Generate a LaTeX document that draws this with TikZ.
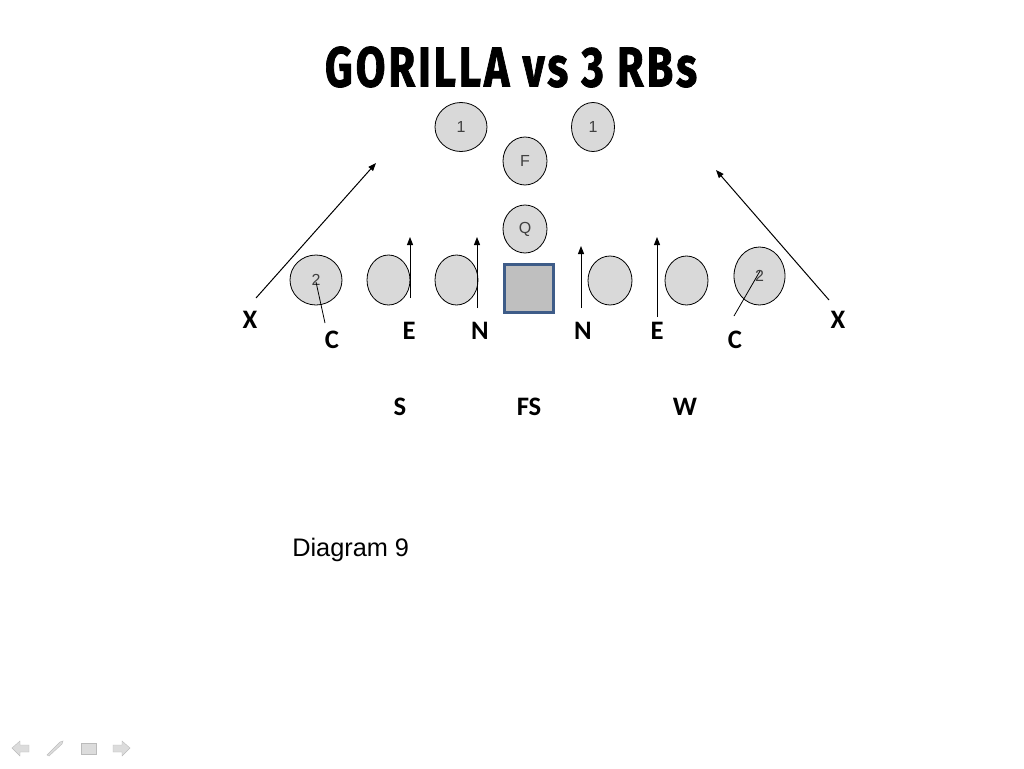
\documentclass[tikz,border=0pt]{standalone}
\usepackage{fontspec}
\setmainfont{Carlito}
\newfontfamily\titlefont[LetterSpace=7, BoldFeatures={FakeBold=1.6}]{Fira Sans}
\newfontfamily\arialfont{Liberation Sans}
\usetikzlibrary{shapes.geometric,arrows.meta}
\definecolor{circfill}{HTML}{D9D9D9}
\definecolor{sqfill}{HTML}{BFBFBF}
\definecolor{sqline}{HTML}{3E5C88}
\definecolor{navgray}{HTML}{DCDCDC}
\tikzset{
  player/.style={ellipse, draw=black, line width=0.6pt, fill=circfill, inner sep=0pt,
    font=\arialfont\fontsize{12}{12}\selectfont, text=black!75},
  lbl/.style={font=\bfseries\fontsize{20}{20}\selectfont, inner sep=0pt, anchor=center},
  route/.style={line width=0.75pt, -{Triangle[length=6pt,width=4.5pt]}},
  tie/.style={line width=0.6pt},
  nav/.style={fill=navgray, draw=navgray!85!black, line width=0.3pt}
}
\begin{document}
\begin{tikzpicture}[x=0.75pt,y=-0.75pt]
\useasboundingbox (0,0) rectangle (1024,768);
\fill[white] (0,0) rectangle (1024,768);
% title
\node[inner sep=0pt] (title) at (511,67) {\resizebox{279pt}{30pt}{\titlefont\bfseries GORILLA vs 3 RBs}};
% backs
\node[player, minimum width=39pt, minimum height=36.75pt] (b1l) at (461,127) {1};
\node[player, minimum width=32.25pt, minimum height=36.75pt] (b1r) at (593,127) {1};
\node[player, minimum width=33pt, minimum height=36pt] (f) at (525,161) {F};
\node[player, minimum width=33pt, minimum height=36pt] (q) at (525,229) {Q};
% line
\node[player, minimum width=39pt, minimum height=37.5pt] (c2l) at (316,280) {2};
\node[player, minimum width=32.25pt, minimum height=37.5pt] (ol1) at (388.5,280) {};
\node[player, minimum width=32.25pt, minimum height=37.5pt] (ol2) at (456.5,280) {};
\node[draw=sqline, line width=2.2pt, fill=sqfill, minimum width=37pt, minimum height=35.5pt, inner sep=0pt] (ctr) at (529,288.5) {};
\node[player, minimum width=33pt, minimum height=36.75pt] (or1) at (610,280.5) {};
\node[player, minimum width=32.25pt, minimum height=36.75pt] (or2) at (686.5,280.5) {};
\node[player, minimum width=38.25pt, minimum height=43.5pt] (c2r) at (759.5,276) {2};
% labels
\node[lbl] (xl) at (250,320) {X};
\node[lbl] (cl) at (332,340) {C};
\node[lbl] (el) at (409,331) {E};
\node[lbl] (nl) at (480,331) {N};
\node[lbl] (nr) at (583,331) {N};
\node[lbl] (er) at (657,331) {E};
\node[lbl] (cr) at (735,340) {C};
\node[lbl] (xr) at (838,320) {X};
\node[lbl] (s) at (400,407) {S};
\node[lbl] (fs) at (529,407) {FS};
\node[lbl] (w) at (685,407) {W};
\node[anchor=west, inner sep=0pt, font=\arialfont\fontsize{19}{19}\selectfont] (diag) at (292,550) {Diagram 9};
% route coordinates
\coordinate (xls) at (256,298);
\coordinate (xlt) at (376,163);
\coordinate (xrs) at (829,300);
\coordinate (xrt) at (716,170);
\coordinate (els) at (410,298);
\coordinate (elt) at (410,237);
\coordinate (nls) at (477,308);
\coordinate (nlt) at (477,237);
\coordinate (nrs) at (581,308);
\coordinate (nrt) at (581,246);
\coordinate (ers) at (657,317);
\coordinate (ert) at (657,237);
\coordinate (cls) at (316,282);
\coordinate (cle) at (325,323);
\coordinate (crs) at (760,271);
\coordinate (cre) at (734,316);
% routes
\draw[route] (xls) -- (xlt);
\draw[route] (xrs) -- (xrt);
\draw[route] (els) -- (elt);
\draw[route] (nls) -- (nlt);
\draw[route] (nrs) -- (nrt);
\draw[route] (ers) -- (ert);
\draw[tie] (cls) -- (cle);
\draw[tie] (crs) -- (cre);
% navigation icons
\draw[nav] (12,748) -- (20,741) -- (20,745) -- (29,745) -- (29,752) -- (20,752) -- (20,756) -- cycle;
\draw[nav] (47,755) -- (60,742) -- (63,741) -- (62,744) -- (49,756) -- cycle;
\draw[nav] (81,743) rectangle (96,754);
\draw[nav] (130,748) -- (122,741) -- (122,745) -- (113,745) -- (113,752) -- (122,752) -- (122,756) -- cycle;
\end{tikzpicture}
\end{document}
